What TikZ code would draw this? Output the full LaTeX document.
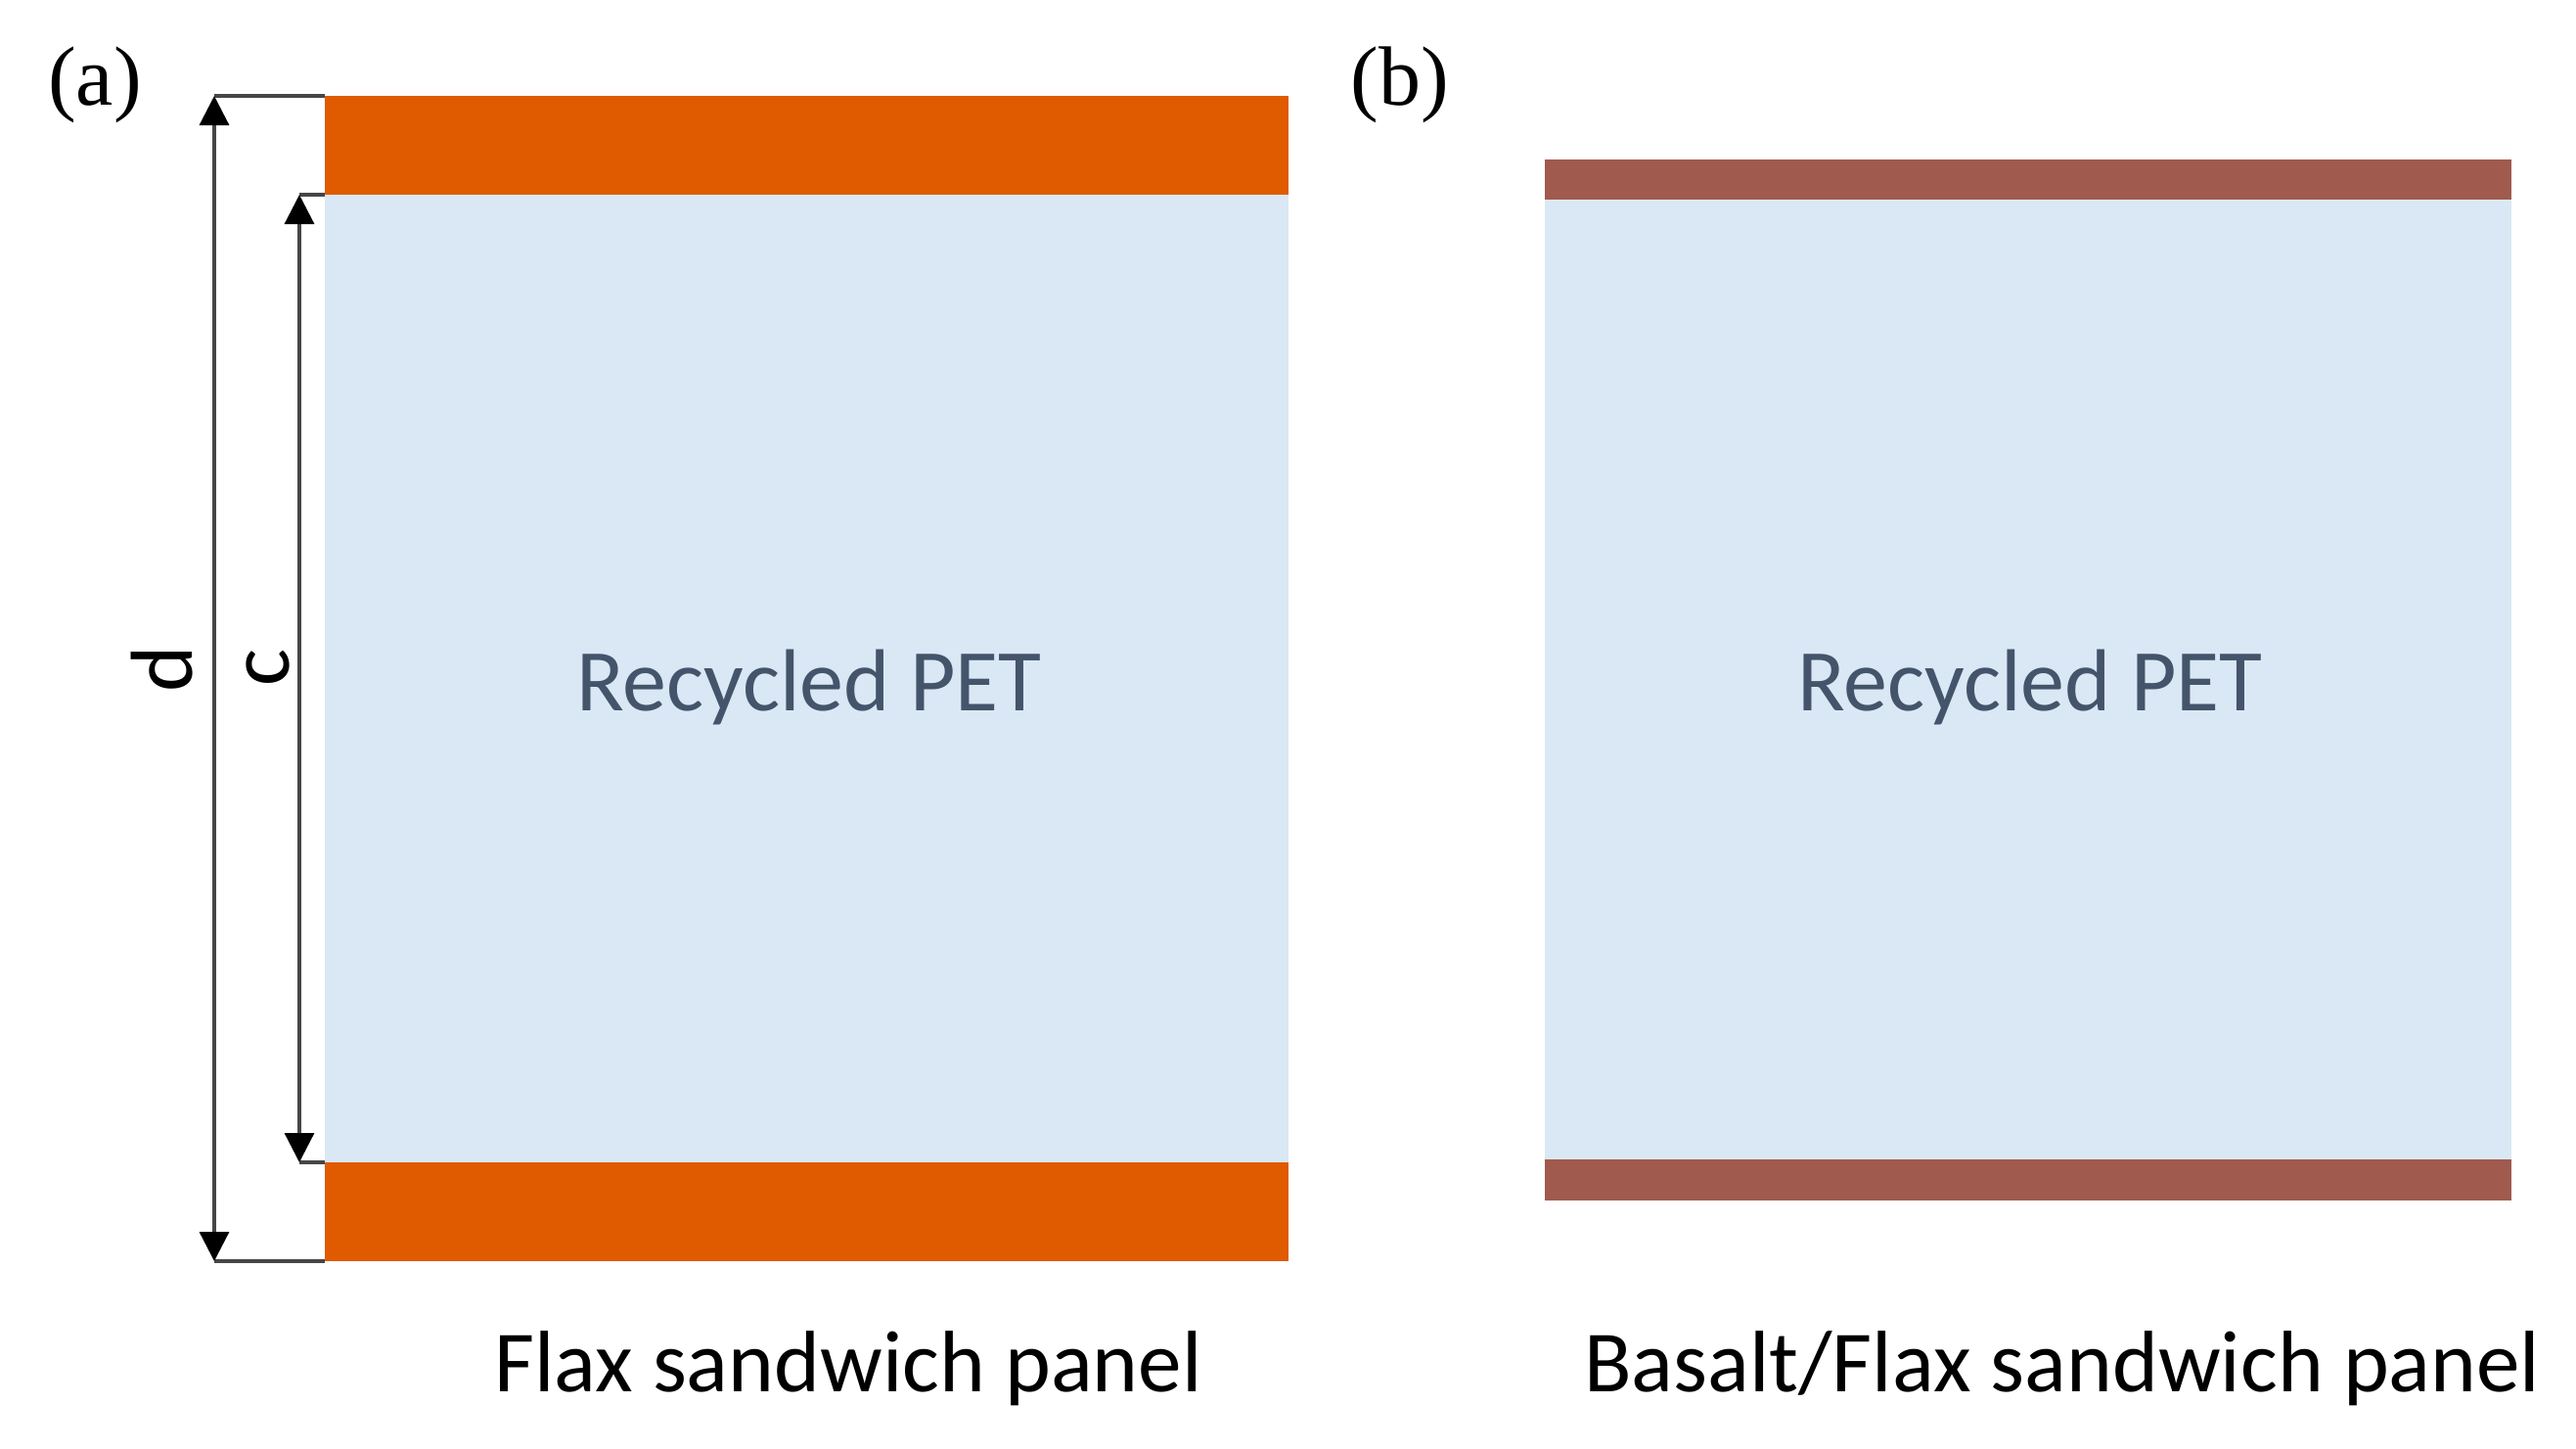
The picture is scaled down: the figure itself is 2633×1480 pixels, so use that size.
\documentclass[tikz,border=0pt]{standalone}
\usepackage{fontspec}
\setmainfont{Carlito}
\newfontfamily\panelserif{Liberation Serif}
\usetikzlibrary{arrows.meta}
\definecolor{skinorange}{RGB}{224,90,0}
\definecolor{skinbrown}{RGB}{160,90,78}
\definecolor{corefill}{RGB}{218,232,245}
\definecolor{coretext}{RGB}{68,84,106}
\definecolor{dimgray}{RGB}{70,70,70}
\begin{document}
\begin{tikzpicture}[x=0.5pt,y=-0.5pt,
  dimline/.style={draw=dimgray, line width=1.6pt},
  dimarrow/.style={dimline, {Triangle[length=15pt,width=15pt,color=black]}-{Triangle[length=15pt,width=15pt,color=black]}},
  coretxt/.style={text=coretext, font=\fontsize{45}{54}\selectfont, inner sep=0pt, anchor=base},
  captxt/.style={text=black, font=\fontsize{44.6}{54}\selectfont, inner sep=0pt, anchor=base},
  dimtxt/.style={text=black, font=\fontsize{45}{54}\selectfont, inner sep=0pt, rotate=90},
  paneltxt/.style={text=black, font=\panelserif\fontsize{43}{50}\selectfont, inner sep=0pt, anchor=base}]
\useasboundingbox (0,0) rectangle (2633,1480);

% ---------- panel (a) ----------
\coordinate (aTL) at (332,98);
\coordinate (aCT) at (332,199);
\coordinate (aCB) at (332,1188);
\coordinate (aBL) at (332,1289);
\fill[skinorange] (332,98) rectangle (1317,199);
\fill[corefill] (332,199) rectangle (1317,1188);
\fill[skinorange] (332,1188) rectangle (1317,1289);

\coordinate (dTop) at (219,98);
\coordinate (dBot) at (219,1289);
\coordinate (cTop) at (306,199);
\coordinate (cBot) at (306,1188);
\draw[dimline] (dTop) -- (aTL);
\draw[dimline] (dBot) -- (aBL);
\draw[dimline] (cTop) -- (aCT);
\draw[dimline] (cBot) -- (aCB);
\draw[dimarrow] (dTop) -- (dBot);
\draw[dimarrow] (cTop) -- (cBot);

\node[dimtxt] (dlab) at (166,684) {d};
\node[dimtxt] (clab) at (274,682) {c};

\node[coretxt] (coreA) at (827,726) {Recycled PET};
\node[captxt] (capA) at (867,1422) {Flax sandwich panel};
\node[paneltxt] (labA) at (97,107) {(a)};

% ---------- panel (b) ----------
\fill[skinbrown] (1579,163) rectangle (2567,204);
\fill[corefill] (1579,204) rectangle (2567,1185);
\fill[skinbrown] (1579,1185) rectangle (2567,1227);

\node[coretxt] (coreB) at (2075,726) {Recycled PET};
\node[captxt] (capB) at (2108,1422) {Basalt/Flax sandwich panel};
\node[paneltxt] (labB) at (1431,107) {(b)};
\end{tikzpicture}
\end{document}
